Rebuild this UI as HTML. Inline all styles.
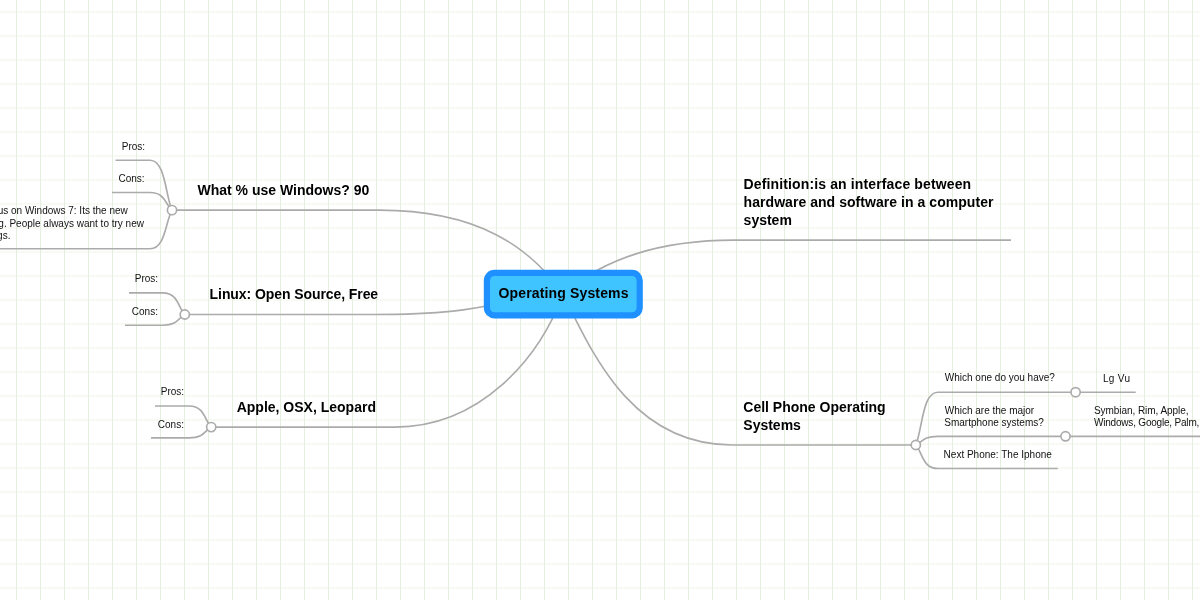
<!DOCTYPE html>
<html><head><meta charset="utf-8"><style>
html,body{margin:0;padding:0;width:1200px;height:600px;overflow:hidden;background:#fff;}
body{background-color:#fff;background-image:linear-gradient(to right,#e6efdd 1px,transparent 1px),linear-gradient(to bottom,#f7faf3 2px,transparent 2px);background-size:24px 24px;background-position:16px 11px;}
svg{position:absolute;left:0;top:0;will-change:transform;}
.ln path{fill:none;stroke:#ababab;stroke-width:1.65;}
.ln circle{fill:#fff;stroke:#ababab;stroke-width:1.65;}
text{font-family:"Liberation Sans",sans-serif;fill:#000;}
text.b{font-weight:bold;font-size:14px;}
text.r{font-size:10px;fill:#111;}
</style></head><body>
<svg width="1200" height="600" viewBox="0 0 1200 600">
<g class="ln">
<path d="M563,294 C530.5,247.6 478.3,210.15 379.2,210.15 L172,210.15"/>
<path d="M563,294 Q625,240.1 733.8,240.1 L1011,240.1"/>
<path d="M563,294 C486.3,300.4 491.2,314.5 372.2,314.5 L184.8,314.5"/>
<path d="M563,294 C539.4,358.4 480.6,427.1 394.8,427.1 L211.2,427.1"/>
<path d="M563,294 C589.7,346.7 629,445 732.2,445 L915.8,445"/>
<path d="M172,210.15 C165.40,195.18 165.40,160.25 150.00,160.25 L115.5,160.25"/>
<path d="M172,210.15 C165.40,204.86 165.40,192.50 150.00,192.50 L112,192.5"/>
<path d="M172,210.15 C165.40,221.73 165.40,248.75 150.00,248.75 L-20,248.75"/>
<path d="M184.8,314.5 C178.20,307.99 178.20,292.80 162.80,292.80 L129,292.8"/>
<path d="M184.8,314.5 C178.20,317.71 178.20,325.20 162.80,325.20 L125,325.2"/>
<path d="M211.2,427.1 C204.60,420.77 204.60,406.00 189.20,406.00 L155,406"/>
<path d="M211.2,427.1 C204.60,430.31 204.60,437.80 189.20,437.80 L151,437.8"/>
<path d="M915.8,445 C922.40,429.16 922.40,392.20 937.80,392.20 L1075.6,392.2"/>
<path d="M1075.6,392.2 L1135.7,392.2"/>
<path d="M915.8,445 C922.40,442.39 922.40,436.30 937.80,436.30 L1065.5,436.3"/>
<path d="M1065.5,436.3 L1210,436.3"/>
<path d="M915.8,445 C922.40,452.05 922.40,468.50 937.80,468.50 L1057.8,468.5"/>
</g>
<rect x="486.9" y="272.9" width="152.8" height="42.4" rx="7.5" ry="7.5" fill="#40c4ff" stroke="#1e90ff" stroke-width="6.2"/>
<g class="ln">
<circle cx="172" cy="210.15" r="4.6"/>
<circle cx="184.8" cy="314.5" r="4.6"/>
<circle cx="211.2" cy="427.1" r="4.6"/>
<circle cx="915.8" cy="445" r="4.6"/>
<circle cx="1075.6" cy="392.2" r="4.6"/>
<circle cx="1065.5" cy="436.3" r="4.6"/>
</g>
<text x="498.5" y="298" class="b" letter-spacing="0.15">Operating Systems</text>
<text x="197.5" y="195" class="b">What % use Windows? 90</text>
<text x="209.6" y="299.2" class="b" letter-spacing="-0.08">Linux: Open Source, Free</text>
<text x="236.7" y="412" class="b">Apple, OSX, Leopard</text>
<text x="743.6" y="188.7" class="b" letter-spacing="0.13">Definition:is an interface between</text>
<text x="743.6" y="207.3" class="b" letter-spacing="0.05">hardware and software in a computer</text>
<text x="743.6" y="225.3" class="b">system</text>
<text x="743.3" y="411.7" class="b">Cell Phone Operating</text>
<text x="743.3" y="430" class="b">Systems</text>
<text x="121.8" y="149.5" class="r">Pros:</text>
<text x="118.5" y="181.8" class="r">Cons:</text>
<text x="-19" y="213.75" class="r">Focus on Windows 7: Its the new</text>
<text x="-17.8" y="226.5" class="r">thing. People always want to try new</text>
<text x="-19" y="238.5" class="r">things.</text>
<text x="134.8" y="282.3" class="r">Pros:</text>
<text x="131.8" y="314.5" class="r">Cons:</text>
<text x="160.8" y="395" class="r">Pros:</text>
<text x="157.8" y="427.5" class="r">Cons:</text>
<text x="944.8" y="381.3" class="r">Which one do you have?</text>
<text x="944.7" y="413.75" class="r">Which are the major</text>
<text x="944.3" y="426.2" class="r">Smartphone systems?</text>
<text x="943.6" y="457.7" class="r">Next Phone: The Iphone</text>
<text x="1103" y="381.7" class="r" letter-spacing="0.3">Lg Vu</text>
<text x="1094" y="413.7" class="r" letter-spacing="-0.06">Symbian, Rim, Apple,</text>
<text x="1094" y="425.5" class="r" letter-spacing="-0.2">Windows, Google, Palm, Windows Mobile</text>
</svg>
</body></html>
